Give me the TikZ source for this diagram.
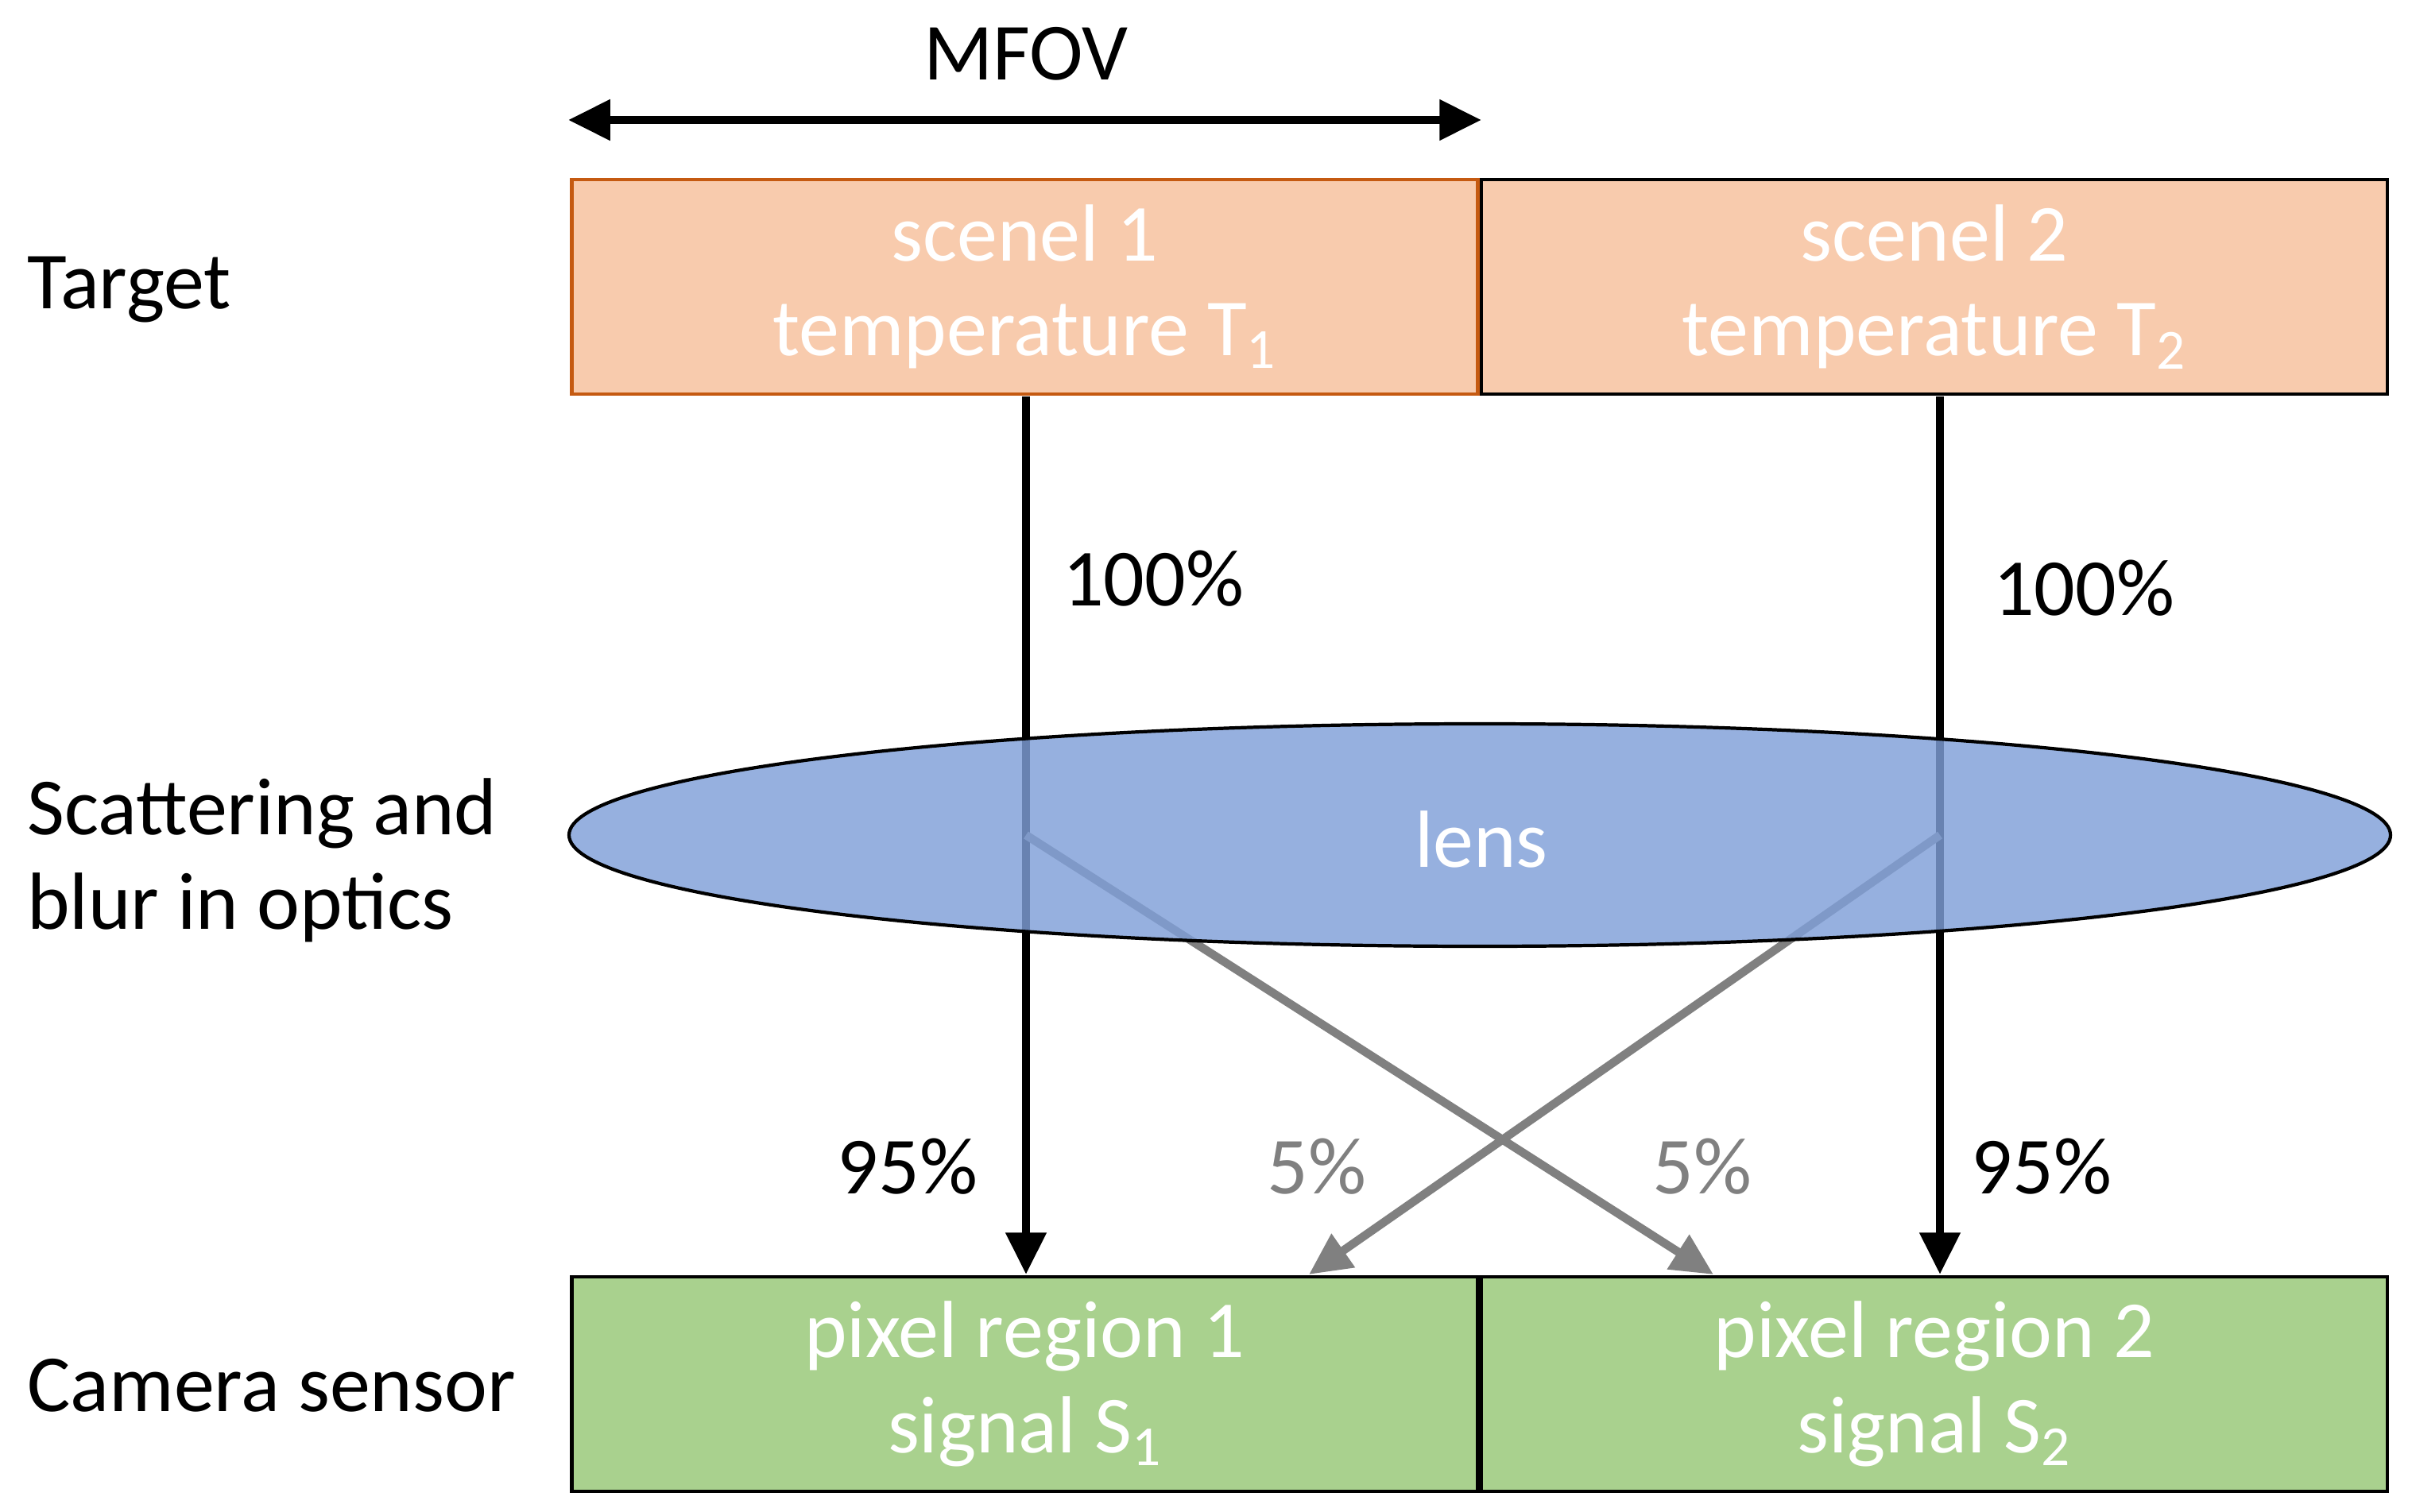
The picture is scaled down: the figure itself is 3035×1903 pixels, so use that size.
\documentclass[tikz,border=0pt]{standalone}
\usepackage{fontspec}
\setmainfont{Carlito}
\usetikzlibrary{arrows.meta}
\definecolor{org}{HTML}{F8CBAD}
\definecolor{orgd}{HTML}{C55A11}
\definecolor{grn}{HTML}{A9D18E}
\definecolor{lens}{HTML}{7F9FD8}
\begin{document}
\begin{tikzpicture}[x=0.01cm,y=-0.01cm,
  txt/.style={font=\fontsize{29}{34}\selectfont},
  wtxt/.style={txt,text=white,align=center},
  box/.style={draw=black,line width=1.2pt,minimum width=1140*0.01cm,minimum height=270*0.01cm,inner sep=0pt},
  blk/.style={line width=3pt,-{Triangle[length=15pt,width=14pt]}},
  gry/.style={line width=3pt,draw=gray,-{Triangle[length=15pt,width=14pt]}}]
\useasboundingbox (0,0) rectangle (3035,1903);
\node[box,fill=org,draw=orgd] (s1) at (1289.5,361) {};
\node[box,fill=org] (s2) at (2434,361) {};
\node[box,fill=grn] (p1) at (1289.5,1742) {};
\node[box,fill=grn] (p2) at (2434,1742) {};
\node[wtxt] at (s1) {scenel 1\\temperature T\textsubscript{1}};
\node[wtxt] at (s2) {scenel 2\\temperature T\textsubscript{2}};
\node[wtxt] at (p1) {pixel region 1\\signal S\textsubscript{1}};
\node[wtxt] at (p2) {pixel region 2\\signal S\textsubscript{2}};
\coordinate (c1) at (1291,1051);
\coordinate (c2) at (2441,1051);
\coordinate (t1) at (1291,499);
\coordinate (t2) at (2441,499);
\coordinate (b1) at (1291,1604);
\coordinate (b2) at (2441,1604);
\coordinate (g1) at (2156,1604);
\coordinate (g2) at (1647,1604);
\draw[blk] (t1) -- (b1);
\draw[blk] (t2) -- (b2);
\draw[gry] (c1) -- (g1);
\draw[gry] (c2) -- (g2);
\fill[lens,fill opacity=0.82] (1862,1051) ellipse [x radius=1146, y radius=140];
\draw[line width=1.2pt] (1862,1051) ellipse [x radius=1146, y radius=140];
\node[wtxt] (ln) at (1864,1056) {lens};
\coordinate (m1) at (715,151);
\coordinate (m2) at (1864,151);
\draw[line width=3pt,{Triangle[length=15pt,width=14pt]}-{Triangle[length=15pt,width=14pt]}] (m1) -- (m2);
\node[txt] (mf) at (1291,68) {MFOV};
\node[txt] (a1) at (1451,728) {100\%};
\node[txt] (a2) at (2622,740) {100\%};
\node[txt] (n1) at (1142,1468) {95\%};
\node[txt] (n2) at (2569,1468) {95\%};
\node[txt,text=gray] (f1) at (1657,1468) {5\%};
\node[txt,text=gray] (f2) at (2142,1468) {5\%};
\node[txt,anchor=west] (lt) at (22,365) {Target};
\node[txt,anchor=west,align=left] (ls) at (22,1083) {Scattering and\\blur in optics};
\node[txt,anchor=west] (lc) at (22,1744) {Camera sensor};
\end{tikzpicture}
\end{document}
